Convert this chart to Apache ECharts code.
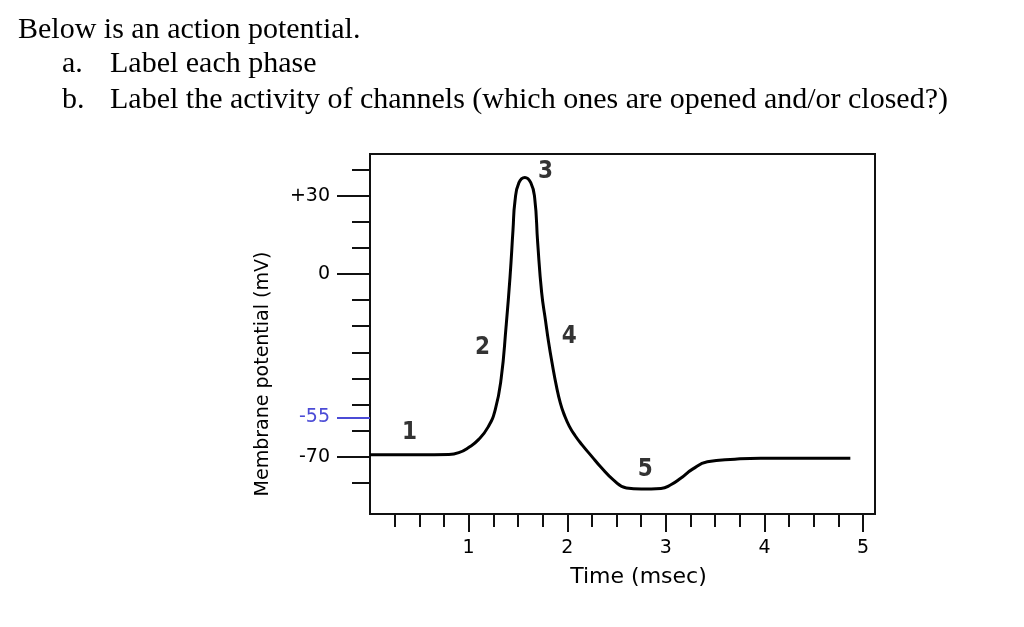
<!DOCTYPE html>
<html>
<head>
<meta charset="utf-8">
<script src="https://cdn.jsdelivr.net/npm/echarts@6/dist/echarts.min.js"></script>
<style>
  html, body { margin: 0; padding: 0; background: #fff; }
  #main { width: 1024px; height: 627px; }
</style>
</head>
<body>
<div id="main"></div>
<script>
// membrane potential trace (time in msec, potential in mV)
let times = [0, 0.5, 0.8, 0.9, 1.0, 1.1, 1.2, 1.27, 1.33, 1.38, 1.42, 1.45, 1.47, 1.51, 1.57, 1.63, 1.67, 1.70, 1.74, 1.78, 1.81, 1.85, 1.89, 1.93, 1.97, 2.02, 2.08, 2.15, 2.25, 2.34, 2.47, 2.6, 2.75, 2.95, 3.05, 3.15, 3.27, 3.42, 3.7, 3.96, 4.4, 4.87];
let potentials = [-69.3, -69.3, -69.2, -68.5, -66.5, -63.5, -58.5, -52, -40, -20, -1, 17, 28, 35, 37, 35, 29, 12, -7, -18, -26, -35, -43, -49.5, -54, -58.3, -62, -65.5, -70, -74, -79, -82, -82.4, -82.2, -80.8, -78.3, -74.8, -72, -71, -70.6, -70.6, -70.6];

// phase numbers written next to the curve
let phaseNames = ['1', '2', '3', '4', '5'];
let phaseTimes = [0.40, 1.14, 1.78, 2.02, 2.79];
let phaseValues = [-60.9, -28.4, 39.1, -24.1, -75.1];

// axis ticks
let xMinorTicks = [0.25, 0.5, 0.75, 1.25, 1.5, 1.75, 2.25, 2.5, 2.75, 3.25, 3.5, 3.75, 4.25, 4.5, 4.75];
let xMajorTicks = [1, 2, 3, 4, 5];
let yMinorTicks = [40, 20, 10, -10, -20, -30, -40, -50, -60, -80];
let yMajorTicks = [30, 0, -70];
let yThreshold = [-55];

let questionLines = [
    'Below is an action potential.',
    'a.',
    'Label each phase',
    'b.',
    'Label the activity of channels (which ones are opened and/or closed?)'
];

let lineData = times.map((t, i) => [t, potentials[i]]);
let phaseData = phaseTimes.map((t, i) => ({name: phaseNames[i], value: [t, phaseValues[i]]}));

let myChart = echarts.init(document.getElementById('main'));

let axisFont = {fontFamily: 'DejaVu Sans', fontSize: 19, color: '#000'};
let serif = '30px "Liberation Serif"';

let option = {
    backgroundColor: '#fff',
    animation: false,
    grid: {
        left: 370,
        right: 149,
        top: 154,
        bottom: 113,
        show: true,
        borderColor: '#111',
        borderWidth: 2,
        outerBoundsMode: 'none'
    },
    graphic: [
        {type: 'text', left: 18, top: 15, style: {text: questionLines[0], font: serif, fill: '#000'}},
        {type: 'text', left: 62, top: 49, style: {text: questionLines[1], font: serif, fill: '#000'}},
        {type: 'text', left: 110, top: 49, style: {text: questionLines[2], font: serif, fill: '#000'}},
        {type: 'text', left: 62, top: 85, style: {text: questionLines[3], font: serif, fill: '#000'}},
        {type: 'text', left: 110, top: 85, style: {text: questionLines[4], font: serif, fill: '#000'}}
    ],
    xAxis: [{
        type: 'value',
        position: 'bottom',
        min: 0,
        max: 5.12,
        axisLine: {show: true, onZero: false, lineStyle: {color: '#111', width: 2}},
        axisTick: {show: true, customValues: xMinorTicks, length: 13, lineStyle: {color: '#111', width: 2}},
        axisLabel: {show: false},
        splitLine: {show: false}
    }, {
        type: 'value',
        position: 'bottom',
        min: 0,
        max: 5.12,
        axisLine: {show: false, onZero: false},
        axisTick: {show: true, customValues: xMajorTicks, length: 18, lineStyle: {color: '#111', width: 2}},
        axisLabel: Object.assign({show: true, customValues: xMajorTicks, margin: 25}, axisFont),
        splitLine: {show: false},
        name: 'Time (msec)',
        nameLocation: 'middle',
        nameGap: 52,
        nameMoveOverlap: false,
        nameTextStyle: {fontFamily: 'DejaVu Sans', fontSize: 22, color: '#000', padding: [0, 0, 0, 32]}
    }],
    yAxis: [{
        type: 'value',
        position: 'left',
        min: -92,
        max: 46,
        axisLine: {show: true, onZero: false, lineStyle: {color: '#111', width: 2}},
        axisTick: {show: true, customValues: yMinorTicks, length: 18, lineStyle: {color: '#111', width: 2}},
        axisLabel: {show: false},
        splitLine: {show: false}
    }, {
        type: 'value',
        position: 'left',
        min: -92,
        max: 46,
        axisLine: {show: false, onZero: false},
        axisTick: {show: true, customValues: yMajorTicks, length: 33, lineStyle: {color: '#111', width: 2}},
        axisLabel: Object.assign({
            show: true,
            customValues: yMajorTicks,
            margin: 40,
            formatter: v => (v > 0 ? '+' + v : '' + v)
        }, axisFont),
        splitLine: {show: false},
        name: 'Membrane potential (mV)',
        nameLocation: 'middle',
        nameGap: 97,
        nameMoveOverlap: false,
        nameTextStyle: {fontFamily: 'DejaVu Sans', fontSize: 19, color: '#000', padding: [0, 80, 0, 0]}
    }, {
        type: 'value',
        position: 'left',
        min: -92,
        max: 46,
        axisLine: {show: false, onZero: false},
        axisTick: {show: true, customValues: yThreshold, length: 33, lineStyle: {color: '#4b4bd6', width: 2}},
        axisLabel: {show: true, customValues: yThreshold, margin: 40, fontFamily: 'DejaVu Sans', fontSize: 19, color: '#4b4bd6'},
        splitLine: {show: false}
    }],
    series: [{
        type: 'line',
        xAxisIndex: 0,
        yAxisIndex: 0,
        data: lineData,
        smooth: 0.5,
        showSymbol: false,
        lineStyle: {color: '#000', width: 3},
        silent: true
    }, {
        type: 'scatter',
        xAxisIndex: 0,
        yAxisIndex: 0,
        data: phaseData,
        symbolSize: 0,
        silent: true,
        label: {
            show: true,
            position: 'inside',
            formatter: p => p.name,
            fontFamily: 'DejaVu Sans Condensed',
            fontWeight: 'bold',
            fontSize: 24,
            color: '#000'
        }
    }]
};
myChart.setOption(option);
</script>
</body>
</html>
